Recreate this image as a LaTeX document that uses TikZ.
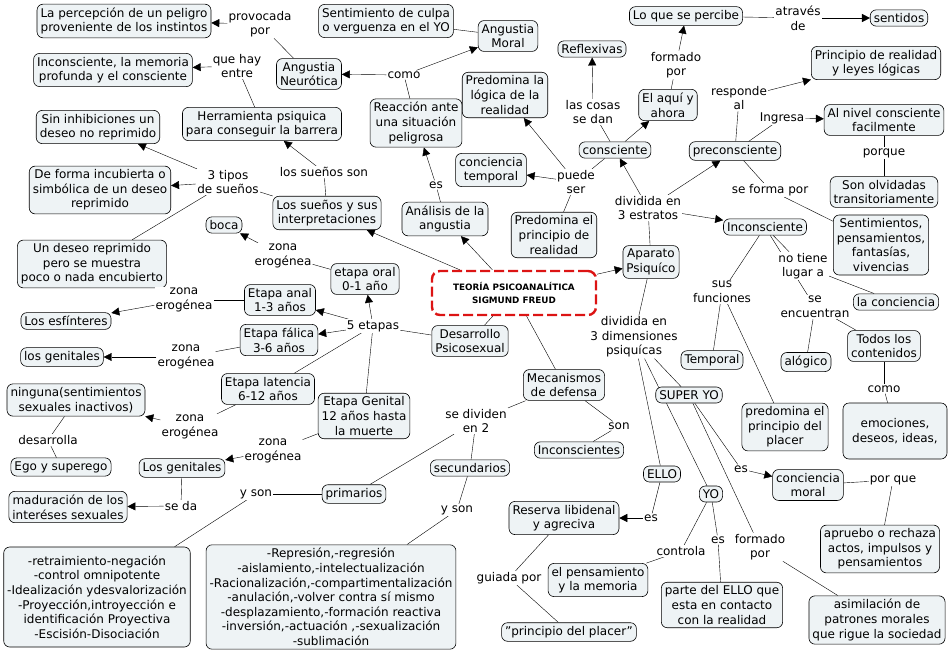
\documentclass[tikz,border=0pt]{standalone}
\usepackage{fontspec}
\setmainfont{DejaVu Sans}
\usetikzlibrary{arrows.meta}
\definecolor{boxfill}{RGB}{238,243,245}
\definecolor{mapred}{RGB}{220,20,20}
\pgfdeclarelayer{bg}
\pgfsetlayers{bg,main}
\begin{document}
\begin{tikzpicture}[x=1pt, y=-1pt, font=\fontsize{12}{14.6}\selectfont, >={Triangle[length=8pt,width=8pt]}]
      \tikzstyle{concept} = [rectangle, draw, fill=boxfill, rounded corners=6, align=center, inner sep=3.5, line width=0.6pt]
      \tikzstyle{main}    = [rectangle, draw=mapred, fill=white, dashed, dash pattern=on 10pt off 4pt, line width=2.4pt, rounded corners=8, align=center, minimum width=164, minimum height=44, font=\bfseries\fontsize{8.8}{13}\selectfont]
      \tikzstyle{lab}     = [align=center, inner sep=1, fill=white]
      \useasboundingbox (0,0) rectangle (951,659);

      % conceptos
      \node[concept] (perc)   at (124,21)  {La percepción de un peligro\\proveniente de los instintos};
      \node[concept] (culpa)  at (386,21)  {Sentimiento de culpa\\o verguenza en el YO};
      \node[concept] (amoral) at (508,36)  {Angustia\\Moral};
      \node[concept] (reflex) at (592,49)  {Reflexivas};
      \node[concept] (loque)  at (686,16)  {Lo que se percibe};
      \node[concept] (sent)   at (899,18)  {sentidos};
      \node[concept] (inc1)   at (113,70)  {Inconsciente, la memoria\\profunda y el consciente};
      \node[concept] (aneur)  at (309,74)  {Angustia\\Neurótica};
      \node[concept] (plog)   at (505,95)  {Predomina la\\lógica de la\\realidad};
      \node[concept] (aqui)   at (668,105) {El aquí y\\ahora};
      \node[concept] (preal)  at (876,63)  {Principio de realidad\\y leyes lógicas};
      \node[concept] (sininh) at (98,127)  {Sin inhibiciones un\\deseo no reprimido};
      \node[concept] (herr)   at (262,124) {Herramienta psiquica\\para conseguir la barrera};
      \node[concept] (reac)   at (416,123) {Reacción ante\\una situación\\peligrosa};
      \node[concept] (nivel)  at (884,120) {Al nivel consciente\\facilmente};
      \node[concept] (cons)   at (615,150) {consciente};
      \node[concept] (prec)   at (735,151) {preconsciente};
      \node[concept] (ctemp)  at (491,170) {conciencia\\temporal};
      \node[concept] (olvid)  at (884,192) {Son olvidadas\\transitoriamente};
      \node[concept] (incub)  at (100,190) {De forma incubierta o\\simbólica de un deseo\\reprimido};
      \node[concept] (suen)   at (327,213) {Los sueños y sus\\interpretaciones};
      \node[concept] (anal2)  at (445,219) {Análisis de la\\angustia};
      \node[concept] (pprin)  at (554,235) {Predomina el\\principio de\\realidad};
      \node[concept] (boca)   at (224,225) {boca};
      \node[concept] (incon)  at (765,227) {Inconsciente};
      \node[concept] (sentim) at (881,245) {Sentimientos,\\pensamientos,\\fantasías,\\vivencias};
      \node[concept] (apar)   at (651,262) {Aparato\\Psiquíco};
      \node[concept] (repr)   at (92,264)  {Un deseo reprimido\\pero se muestra\\poco o nada encubierto};
      \node[concept] (oral)   at (365,279) {etapa oral\\0-1 año};
      \node[main]    (teoria) at (514,293) {TEORÍA PSICOANALÍTICA\\SIGMUND FREUD};
      \node[concept] (anal)   at (280,300) {Etapa anal\\1-3 años};
      \node[concept] (lacon)  at (896,302) {la conciencia};
      \node[concept] (esf)    at (66,321)  {Los esfínteres};
      \node[concept] (fal)    at (279,340) {Etapa fálica\\3-6 años};
      \node[concept] (desa)   at (470,341) {Desarrollo\\Psicosexual};
      \node[concept] (todos)  at (884,346) {Todos los\\contenidos};
      \node[concept] (gen1)   at (62,357)  {los genitales};
      \node[concept] (temp)   at (712,360) {Temporal};
      \node[concept] (alog)   at (806,362) {alógico};
      \node[concept] (lat)    at (268,389) {Etapa latencia\\6-12 años};
      \node[concept] (mec)    at (564,385) {Mecanismos\\de defensa};
      \node[concept] (ning)   at (76,400)  {ninguna(sentimientos\\sexuales inactivos)};
      \node[concept] (genit)  at (364,416) {Etapa Genital\\12 años hasta\\la muerte};
      \node[concept] (super)  at (689,395) {SUPER YO};
      \node[concept] (pplac)  at (785,427) {predomina el\\principio del\\placer};
      \node[concept, minimum height=56, minimum width=104] (emoc) at (895,431) {emociones,\\deseos, ideas,};
      \node[concept] (inconsc) at (579,450) {Inconscientes};
      \node[concept] (egos)   at (61,467)  {Ego y superego};
      \node[concept] (losgen) at (182,468) {Los genitales};
      \node[concept] (secu)   at (470,468) {secundarios};
      \node[concept] (ello)   at (662,474) {ELLO};
      \node[concept] (cmoral) at (808,485) {conciencia\\moral};
      \node[concept] (prim)   at (354,494) {primarios};
      \node[concept] (yo)     at (711,494) {YO};
      \node[concept] (madu)   at (68,507)  {maduración de los\\interéses sexuales};
      \node[concept] (reser)  at (564,518) {Reserva libidenal\\y agreciva};
      \node[concept] (aprue)  at (880,549) {apruebo o rechaza\\actos, impulsos y\\pensamientos};
      \node[concept, minimum height=100] (plist) at (97,597) {-retraimiento-negación\\-control omnipotente\\-Idealización ydesvalorización\\-Proyección,introyección e\\identificación Proyectiva\\-Escisión-Disociación};
      \node[concept] (slist)  at (331,597) {-Represión,-regresión\\-aislamiento,-intelectualización\\-Racionalización,-compartimentalización\\-anulación,-volver contra sí mismo\\-desplazamiento,-formación reactiva\\-inversión,-actuación ,-sexualización\\-sublimación};
      \node[concept] (pens)   at (598,580) {el pensamiento\\y la memoria};
      \node[concept] (parte)  at (722,605) {parte del ELLO que\\esta en contacto\\con la realidad};
      \node[concept] (asim)   at (877,620) {asimilación de\\patrones morales\\que rigue la sociedad};
      \node[concept] (pplac2) at (569,632) {"principio del placer"};

      % enlaces
      \node[lab] (l1)  at (260,24)  {provocada\\por};
      \node[lab] (l2)  at (404,75)  {como};
      \node[lab] (l3)  at (237,66)  {que hay\\entre};
      \node[lab] (l4)  at (324,172) {los sueños son};
      \node[lab] (l5)  at (228,182) {3 tipos\\de sueños};
      \node[lab] (l6)  at (436,185) {es};
      \node[lab] (l7)  at (576,182) {puede\\ser};
      \node[lab] (l8)  at (593,112) {las cosas\\se dan};
      \node[lab] (l9)  at (676,65)  {formado\\por};
      \node[lab] (l10) at (798,18)  {através\\de};
      \node[lab] (l11) at (739,98)  {responde\\al};
      \node[lab] (l12) at (782,118) {Ingresa};
      \node[lab] (l13) at (884,153) {porque};
      \node[lab] (l14) at (770,190) {se forma por};
      \node[lab] (l15) at (648,208) {dividida en\\3 estratos};
      \node[lab] (l16) at (803,266) {no tiene\\lugar a};
      \node[lab] (l17) at (722,292) {sus\\funciones};
      \node[lab] (l18) at (815,307) {se\\encuentran};
      \node[lab] (l19) at (884,389) {como};
      \node[lab] (l20) at (283,256) {zona\\erogénea};
      \node[lab] (l21) at (373,326) {5 etapas};
      \node[lab] (l22) at (184,300) {zona\\erogénea};
      \node[lab] (l23) at (186,357) {zona\\erogénea};
      \node[lab] (l24) at (190,427) {zona\\erogénea};
      \node[lab] (l25) at (48,440)  {desarrolla};
      \node[lab] (l26) at (273,451) {zona\\erogénea};
      \node[lab] (l27) at (181,506) {se da};
      \node[lab] (l28) at (634,337) {dividida en\\3 dimensiones\\psiquícas};
      \node[lab] (l29) at (476,421) {se dividen\\en 2};
      \node[lab] (l30) at (619,426) {son};
      \node[lab] (l31) at (256,494) {y son};
      \node[lab] (l32) at (457,510) {y son};
      \node[lab] (l33) at (741,469) {es};
      \node[lab] (l34) at (760,547) {formado\\por};
      \node[lab] (l35) at (893,480) {por que};
      \node[lab] (l36) at (651,518) {es};
      \node[lab] (l37) at (681,551) {controla};
      \node[lab] (l38) at (718,540) {es};
      \node[lab] (l39) at (509,578) {guiada por};

      \begin{pgfonlayer}{bg}
      \draw (aneur) -- (l1); \draw[->] (l1) -- (perc);
      \draw (reac) -- (l2); \draw[->] (l2) -- (aneur); \draw[->] (l2) -- (amoral);
      \draw (culpa) -- (amoral);
      \draw (herr) -- (l3); \draw[->] (l3) -- (inc1);
      \draw (suen) -- (l4); \draw[->] (l4) -- (herr);
      \draw (suen) -- (l5); \draw[->] (l5) -- (sininh); \draw[->] (l5) -- (incub); \draw (l5) -- (repr);
      \draw (anal2) -- (l6); \draw[->] (l6) -- (reac);
      \draw (cons) -- (l7); \draw[->] (l7) -- (plog); \draw[->] (l7) -- (ctemp); \draw (l7) -- (pprin);
      \draw (cons) -- (l8); \draw[->] (l8) -- (reflex);
      \draw[->] (cons) -- (aqui);
      \draw (aqui) -- (l9); \draw[->] (l9) -- (loque);
      \draw (loque) -- (l10); \draw[->] (l10) -- (sent);
      \draw (prec) -- (l11); \draw[->] (l11) -- (preal);
      \draw (prec) -- (l12); \draw[->] (l12) -- (nivel);
      \draw (nivel) -- (l13); \draw (l13) -- (olvid);
      \draw (prec) -- (l14); \draw (l14) -- (sentim);
      \draw (apar) -- (l15); \draw[->] (l15) -- (cons); \draw[->] (l15) -- (prec); \draw[->] (l15) -- (incon);
      \draw (incon) -- (l16); \draw (l16) -- (lacon);
      \draw (incon) -- (l17); \draw (l17) -- (temp); \draw (l17) -- (pplac);
      \draw (incon) -- (l18); \draw (l18) -- (todos); \draw (l18) -- (alog);
      \draw (todos) -- (l19); \draw (l19) -- (emoc);
      \draw (oral) -- (l20); \draw[->] (l20) -- (boca);
      \draw (desa) -- (l21); \draw[->] (l21) -- (oral); \draw[->] (l21) -- (anal); \draw[->] (l21) -- (fal); \draw (l21) -- (lat); \draw (l21) -- (genit);
      \draw (anal) -- (l22); \draw[->] (l22) -- (esf);
      \draw (fal) -- (l23); \draw[->] (l23) -- (gen1);
      \draw (lat) -- (l24); \draw[->] (l24) -- (ning);
      \draw (ning) -- (l25); \draw (l25) -- (egos);
      \draw (genit) -- (l26); \draw[->] (l26) -- (losgen);
      \draw (losgen) -- (l27); \draw[->] (l27) -- (madu);
      \draw (apar) -- (l28); \draw (l28) -- (super); \draw (l28) -- (ello); \draw (l28) -- (yo);
      \draw (mec) -- (l29); \draw (l29) -- (prim); \draw (l29) -- (secu);
      \draw (mec) -- (l30); \draw (l30) -- (inconsc);
      \draw (prim) -- (l31); \draw (l31) -- (plist);
      \draw (secu) -- (l32); \draw (l32) -- (slist);
      \draw (super) -- (l33); \draw[->] (l33) -- (cmoral);
      \draw (super) -- (l34); \draw (l34) -- (asim);
      \draw (cmoral) -- (l35); \draw (l35) -- (aprue);
      \draw (ello) -- (l36); \draw[->] (l36) -- (reser);
      \draw (yo) -- (l37); \draw (l37) -- (pens);
      \draw (yo) -- (l38); \draw (l38) -- (parte);
      \draw (reser) -- (l39); \draw (l39) -- (pplac2);
      \draw[->] (teoria) -- (apar);
      \draw[->] (teoria) -- (suen);
      \draw[->] (teoria) -- (anal2);
      \draw (teoria) -- (desa);
      \draw (teoria) -- (mec);
      \end{pgfonlayer}
\end{tikzpicture}
\end{document}
